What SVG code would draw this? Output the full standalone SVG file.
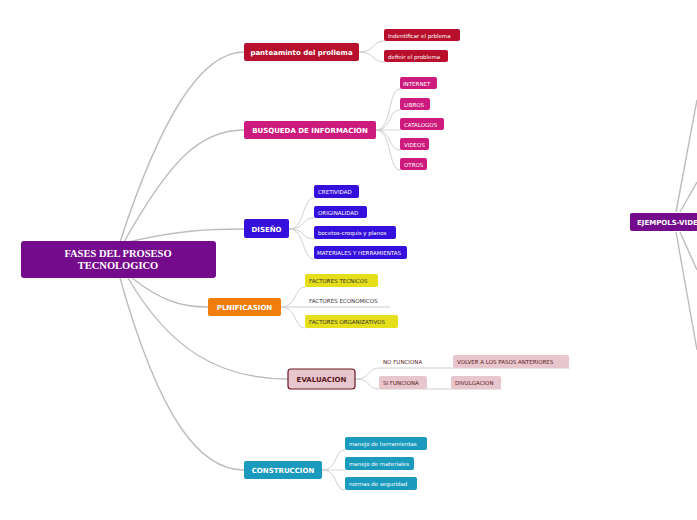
<svg xmlns="http://www.w3.org/2000/svg" width="697" height="520" viewBox="0 0 697 520">
<style>
.c{fill:none;stroke:#bdbdbd;stroke-width:1.4}
.s{fill:none;stroke:#cfcfcf;stroke-width:1}
.t{font-family:"DejaVu Sans",sans-serif;font-weight:bold;font-size:7px;fill:#fff}
.u{font-family:"DejaVu Sans",sans-serif;font-size:5.5px;fill:#fff}
.d{fill:#5a1a22}
.k{fill:#333}
</style>
<rect width="697" height="520" fill="#fff"/>
<g id="connectors">
<path class="c" d="M120 242 C160 120 200 52 244 52"/>
<path class="c" d="M124 242 C170 160 200 130 244 130"/>
<path class="c" d="M128 242 C180 230 210 229 244 229"/>
<path class="c" d="M132 278 C160 300 180 307 208 307"/>
<path class="c" d="M128 278 C170 350 220 379 288 379"/>
<path class="c" d="M120 278 C160 420 200 470 244 470"/>
<path class="c" d="M676 212 L697 100"/>
<path class="c" d="M680 212 L697 182"/>
<path class="c" d="M680 232 L697 270"/>
<path class="c" d="M676 232 L697 350"/>
<path class="s" d="M359 52 C375 52 372 41 384 41 M359 52 C375 52 372 62 384 62"/>
<path class="s" d="M376 130 C392 130 388 89 400 89 M376 130 C392 130 388 110 400 110 M376 130 C392 130 388 130 400 130 M376 130 C392 130 388 150 400 150 M376 130 C392 130 388 170 400 170"/>
<path class="s" d="M289 229 C305 229 302 198 314 198 M289 229 C305 229 302 218 314 218 M289 229 C305 229 302 239 314 239 M289 229 C305 229 302 259 314 259"/>
<path class="s" d="M281 307 C297 307 294 287 305 287 M281 307 L390 307 M281 307 C297 307 294 328 305 328"/>
<path class="s" d="M355 379 C372 379 366 368 380 368 L570 368 M355 379 C372 379 366 389 380 389 L501 389"/>
<path class="s" d="M322 470 C338 470 334 450 345 450 M322 470 C338 470 334 470 345 470 M322 470 C338 470 334 490 345 490"/>
</g>
<g id="root"><rect x="21" y="241" width="195" height="37" rx="3" fill="#740a8c"/>
<text x="118" y="257" text-anchor="middle" font-family="'Liberation Serif',serif" font-weight="bold" font-size="10.5" fill="#fff">FASES DEL PROSESO</text>
<text x="118" y="269" text-anchor="middle" font-family="'Liberation Serif',serif" font-weight="bold" font-size="10.5" fill="#fff">TECNOLOGICO</text></g>
<g id="n1"><rect x="244" y="43" width="115" height="18" rx="2" fill="#b8102c"/><text class="t" x="301.5" y="55" text-anchor="middle">panteaminto del prollema</text>
<rect x="384" y="29" width="76" height="12" rx="2" fill="#b8102c"/><text class="u" x="388" y="37.5">Indentificar el prblema</text>
<rect x="384" y="50" width="64" height="12" rx="2" fill="#b8102c"/><text class="u" x="388" y="58.5">definir el problema</text></g>
<g id="n2"><rect x="244" y="121" width="132" height="18" rx="2" fill="#cc1a7d"/><text class="t" x="310" y="133" text-anchor="middle">BUSQUEDA DE INFORMACION</text>
<rect x="400" y="77" width="37" height="12" rx="2" fill="#cc1a7d"/><text class="u" x="403" y="85.5">INTERNET</text>
<rect x="400" y="98" width="30" height="12" rx="2" fill="#cc1a7d"/><text class="u" x="404" y="106.5">LIBROS</text>
<rect x="400" y="118" width="44" height="12" rx="2" fill="#cc1a7d"/><text class="u" x="404" y="126.5">CATALOGOS</text>
<rect x="400" y="138" width="29" height="12" rx="2" fill="#cc1a7d"/><text class="u" x="404" y="146.5">VIDEOS</text>
<rect x="400" y="158" width="27" height="12" rx="2" fill="#cc1a7d"/><text class="u" x="404" y="166.5">OTROS</text></g>
<g id="n3"><rect x="244" y="219" width="45" height="19" rx="2" fill="#3510dc"/><text class="t" x="266.5" y="231.5" text-anchor="middle">DISEÑO</text>
<rect x="314" y="185" width="45" height="13" rx="2" fill="#3510dc"/><text class="u" x="318" y="194">CRETIVIDAD</text>
<rect x="314" y="206" width="53" height="12" rx="2" fill="#3510dc"/><text class="u" x="318" y="214.5">ORIGINALIDAD</text>
<rect x="314" y="226" width="82" height="13" rx="2" fill="#3510dc"/><text class="u" x="318" y="235">bocetos-croquis y planos</text>
<rect x="314" y="246" width="93" height="13" rx="2" fill="#3510dc"/><text class="u" x="317" y="255">MATERIALES Y HERRAMIENTAS</text></g>
<g id="n4"><rect x="208" y="298" width="73" height="18" rx="2" fill="#f07d0c"/><text class="t" x="244.5" y="310" text-anchor="middle">PLNIFICASION</text>
<rect x="305" y="274" width="73" height="13" rx="2" fill="#e5de1a"/><text class="u k" x="309" y="283">FACTORES TECNICOS</text>
<text class="u k" x="309" y="303">FACTORES ECONOMICOS</text>
<rect x="305" y="315" width="93" height="13" rx="2" fill="#e5de1a"/><text class="u k" x="309" y="324">FACTORES ORGANIZATIVOS</text></g>
<g id="n5"><rect x="288" y="369" width="67" height="20" rx="3" fill="#e8c6cd" stroke="#6b1a24" stroke-width="1.2"/><text class="t d" x="321.5" y="381.5" text-anchor="middle">EVALUACION</text>
<text class="u d" x="383" y="364">NO FUNCIONA</text>
<rect x="453" y="355" width="116" height="13" rx="2" fill="#e8c6cd"/><text class="u d" x="457" y="364">VOLVER A LOS PASOS ANTERIORES</text>
<rect x="379" y="376" width="48" height="13" rx="2" fill="#e8c6cd"/><text class="u d" x="383" y="385">SI FUNCIONA</text>
<rect x="451" y="376" width="50" height="13" rx="2" fill="#e8c6cd"/><text class="u d" x="455" y="385">DIVULGACION</text></g>
<g id="n6"><rect x="244" y="461" width="78" height="18" rx="2" fill="#1a9bbd"/><text class="t" x="283" y="473" text-anchor="middle">CONSTRUCCION</text>
<rect x="345" y="437" width="82" height="13" rx="2" fill="#1a9bbd"/><text class="u" x="349" y="446">manejo de herramientas</text>
<rect x="345" y="457" width="69" height="13" rx="2" fill="#1a9bbd"/><text class="u" x="349" y="466">manejo de materiales</text>
<rect x="345" y="477" width="72" height="13" rx="2" fill="#1a9bbd"/><text class="u" x="349" y="486">normas de seguridad</text></g>
<g id="n7"><rect x="630" y="213" width="80" height="18" rx="2" fill="#740a8c"/><text class="t" x="637" y="224.5">EJEMPOLS-VIDEOS</text></g>
</svg>
